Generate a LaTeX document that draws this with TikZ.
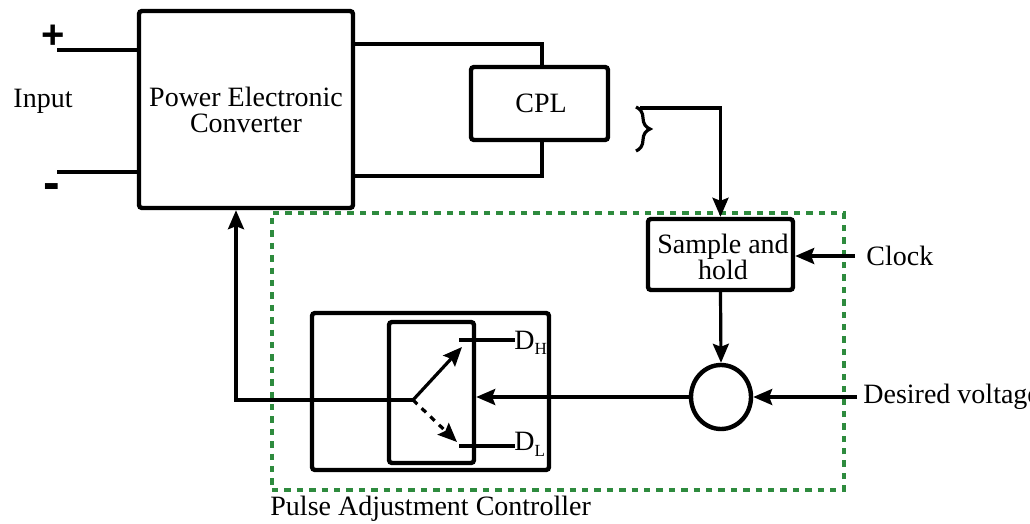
\documentclass[tikz,border=0pt]{standalone}
\usepackage{fontspec}
\setmainfont{Liberation Serif}
\newfontfamily\signfont{Liberation Sans}
\usetikzlibrary{arrows.meta,shapes.geometric,fit,decorations.pathreplacing}
\definecolor{ctrlgreen}{RGB}{46,139,62}
\begin{document}
\begin{tikzpicture}[x=0.5pt,y=-0.5pt,
  box/.style={draw, line width=2.2pt, rounded corners=1.5pt, inner sep=0pt},
  wire/.style={line width=1.6pt},
  arr/.style={wire, -{Stealth[length=9.5pt,width=8pt,inset=1.5pt]}},
  lbl/.style={inner sep=0pt, align=center, font=\fontsize{14}{12.8}\selectfont},
  ctrl/.style={draw=ctrlgreen, line width=1.6pt, dash pattern=on 3.2pt off 3pt, inner sep=0pt}
]
\useasboundingbox (0,0) rectangle (1030,524);

% controller frame
\node[ctrl, fit={(272,213) (844,490)}] (grp) {};
\node[lbl, anchor=west] (pacl) at (270,509) {Pulse Adjustment Controller};

% blocks
\node[box, fit={(139,11) (353,208)}] (pec) {};
\node[lbl] (pect) at (246,110) {Power Electronic\\Converter};
\node[box, fit={(471,67) (608,140)}] (cpl) {};
\node[lbl] (cplt) at (541,103) {CPL};
\node[box, fit={(648,219) (793,290)}] (sh) {};
\node[lbl] (sht) at (723,257) {Sample and\\hold};
\node[draw, ellipse, line width=2.2pt, minimum width=30pt, minimum height=32pt, inner sep=0pt] (sum) at (721,397) {};
\node[box, fit={(312,313) (549,470)}] (pac) {};
\node[box, fit={(389,322) (474,463)}] (sw) {};

% input side
\node[lbl] (inp) at (43,101) {Input};
\node[inner sep=0pt, font=\signfont\bfseries\fontsize{20}{20}\selectfont] (plus) at (53.5,37) {+};
\node[inner sep=0pt, anchor=base, font=\signfont\bfseries\fontsize{25}{25}\selectfont] (minus) at (51.5,200) {-};
\coordinate (ip) at (57,50);
\coordinate (im) at (57,172);
\draw[wire] (ip) -- (ip -| pec.west);
\draw[wire] (im) -- (im -| pec.west);

% output to CPL
\coordinate (o1) at (542,44);
\coordinate (o2) at (542,176);
\draw[wire] (o1 -| pec.east) -- (o1) -- (o1 |- cpl.north);
\draw[wire] (o2 -| pec.east) -- (o2) -- (o2 |- cpl.south);

% brace and sensing
\draw[line width=1.6pt, decorate, decoration={brace, amplitude=7pt}] (636,107) -- (636,151);
\coordinate (bt) at (640,108);
\draw[arr] (bt) -| (sh.north);

% clock
\node[lbl, anchor=west, inner xsep=5.5pt] (clk) at (855,256) {Clock};
\draw[arr] (clk.west) -- (clk.west -| sh.east);

% sample -> comparator
\draw[arr] (sh.south) -- (sum.north);
\node[lbl, anchor=west, inner xsep=3pt] (dv) at (857,397) {Desired voltage};
\draw[arr] (dv.west) -- (sum.east);
\draw[arr] (sum.west) -- (sum.west -| sw.east);

% switch
\coordinate (piv) at (413,400);
\coordinate (ha) at (462,347);
\coordinate (la) at (457,442);
\coordinate (dh) at (459,340);
\coordinate (dhe) at (515,340);
\coordinate (dl) at (459,446);
\coordinate (dle) at (515,446);
\draw[wire] (dh) -- (dhe);
\draw[wire] (dl) -- (dle);
\draw[arr] (piv) -- (ha);
\draw[arr, dash pattern=on 3pt off 3pt] (piv) -- (la);
\node[lbl, anchor=base west] (dhl) at (514,350) {D\raisebox{-2.5pt}{\fontsize{8.5}{8.5}\selectfont H}};
\node[lbl, anchor=base west] (dll) at (514,451) {D\raisebox{-2.5pt}{\fontsize{8.5}{8.5}\selectfont L}};

% feedback
\coordinate (fb) at (236,400);
\draw[arr] (piv) -- (fb) -- (fb |- pec.south);
\end{tikzpicture}
\end{document}
